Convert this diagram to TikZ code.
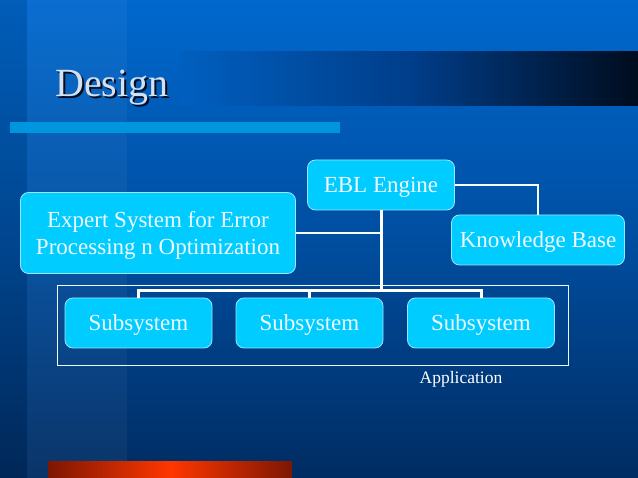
\documentclass[tikz,border=0pt]{standalone}
\usepackage{fontspec}
\setmainfont{Liberation Serif}
\usetikzlibrary{positioning,shapes}
\definecolor{bgtop}{RGB}{0,104,206}
\definecolor{bgmid}{RGB}{0,78,160}
\definecolor{bgbot}{RGB}{0,44,98}
\definecolor{boxfill}{RGB}{0,204,255}
\definecolor{boxline}{RGB}{150,232,255}
\definecolor{boxtext}{RGB}{238,250,255}
\definecolor{strip}{RGB}{0,150,222}
\definecolor{titlecol}{RGB}{214,224,240}
\definecolor{bandstart}{RGB}{0,95,191}
\definecolor{bandmid}{RGB}{0,62,138}
\definecolor{bandend}{RGB}{0,12,30}
\definecolor{redout}{RGB}{125,22,4}
\definecolor{redin}{RGB}{255,55,0}

\begin{document}
\begin{tikzpicture}[inner sep=0pt,x=1pt,y=-1pt]
  \tikzstyle{b}=[rectangle,rounded corners=8pt,fill=boxfill,draw=boxline,line width=0.8pt,text=boxtext,minimum width=147pt,minimum height=50pt,text depth=0pt,font=\fontsize{23}{27}\selectfont,align=center]
  \useasboundingbox (0,0) rectangle (638,478);
  % slide background
  \shade[top color=bgtop,bottom color=bgbot,middle color=bgmid] (0,0) rectangle (638,478);
  \fill[black,opacity=0.10] (0,0) rectangle (27,478);
  \fill[white,opacity=0.04] (27,0) rectangle (127,478);
  \shade[left color=bandstart,right color=bandmid] (180,52) rectangle (410,106);
  \shade[left color=bandmid,right color=bandend] (410,52) rectangle (638,106);
  \fill[strip] (10,122) rectangle (340,133);
  \shade[left color=redout,right color=redin] (48,462) rectangle (170,478);
  \shade[left color=redin,right color=redout] (170,462) rectangle (292,478);
  % title
  \node[text=bandend,font=\fontsize{40}{40}\selectfont,anchor=base west](titleshadow)at(57,99){Design};
  \node[text=titlecol,font=\fontsize{40}{40}\selectfont,anchor=base west](title)at(55,97){Design};
  % boxes
  \node[b](ebl)at(381,185){EBL Engine};
  \node[b,minimum width=275pt,minimum height=81pt](exp)at(158,233){Expert System for Error\\Processing n Optimization};
  \node[b,minimum width=173pt](kb)at(538,240){Knowledge Base};
  \foreach\n/\x in{s1/138.5,s2/309.5,s3/481}{\node[b](\n)at(\x,323){Subsystem};}
  \node[draw=white!85!boxline,line width=0.8pt,minimum width=511pt,minimum height=80pt](app)at(312.5,325){};
  \node[text=white,font=\fontsize{17.5}{20}\selectfont](applbl)at(461,379){Application};
  \coordinate(bus)at(381,291);
  % connectors
  \tikzstyle{tree}=[draw=white,line width=3pt]
  \tikzstyle{link}=[draw=white!90!boxline,line width=1.5pt]
  \draw[tree](ebl.south)--(bus);
  \draw[tree](s1.north)|-(s3.north|-bus)--(s3.north);
  \draw[tree](s2.north)--(s2.north|-bus);
  \draw[link](exp.east)--(exp.east-|ebl.south);
  \draw[link](ebl.east)-|(kb.north);
\end{tikzpicture}
\end{document}
